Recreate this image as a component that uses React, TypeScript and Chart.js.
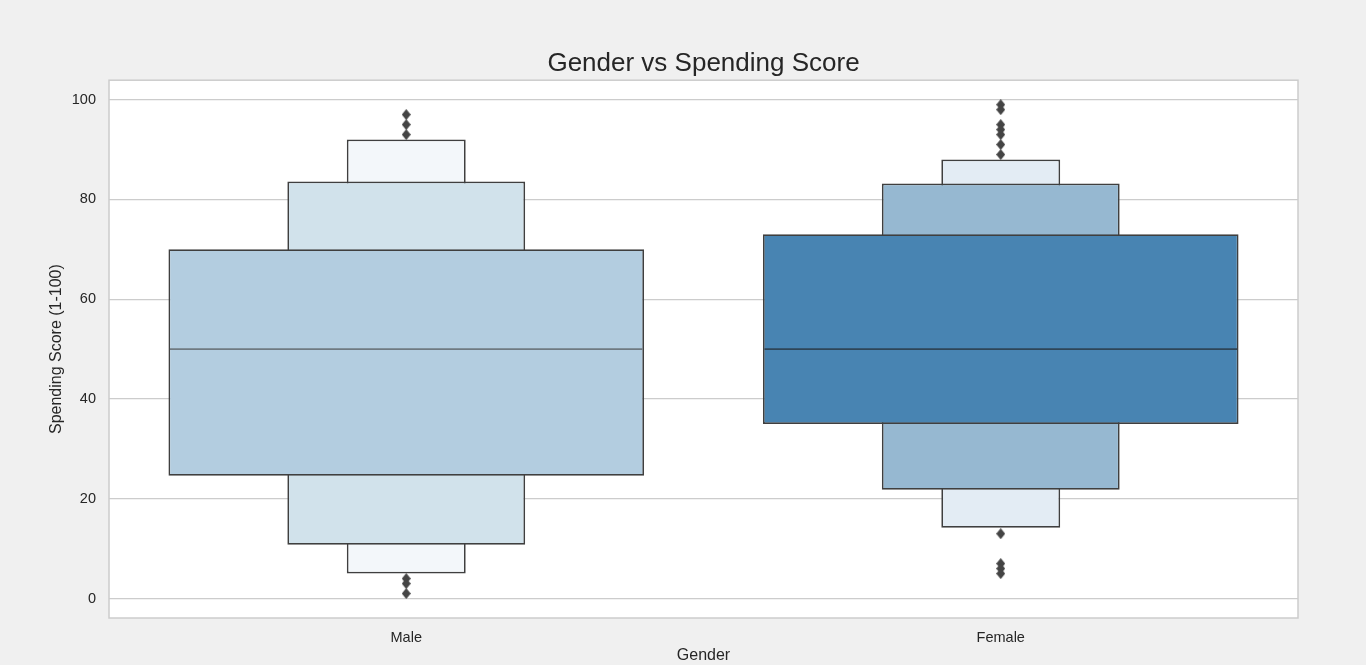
import React, { useEffect, useRef } from "react";
import { Chart, registerables } from "chart.js";

Chart.register(...registerables);

const categories = ["Male", "Female"];
const yTicks = [0, 20, 40, 60, 80, 100];

// boxen levels [low, high] per category (level 1 = innermost / widest)
const level1 = [[24.6, 70], [35, 73]];
const level2 = [[10.8, 83.6], [21.8, 83.2]];
const level3 = [[5, 92], [14.2, 88]];
const medians = [50, 50];

const maleOutliers = [97, 95, 93, 4, 3, 1];
const femaleOutliers = [99, 98, 95, 94, 93, 91, 89, 13, 7, 6, 5];

const level1Colors = ["#b3cde0", "#4884b2"];
const level2Colors = ["#d1e2eb", "#96b8d1"];
const level3Colors = ["#f3f7fa", "#e3ecf4"];
const medianColors = ["#6f7a82", "#2e4557"];

function makeDiamond(): HTMLCanvasElement {
  const c = document.createElement("canvas");
  c.width = 9;
  c.height = 11;
  const g = c.getContext("2d")!;
  g.fillStyle = "#444444";
  g.beginPath();
  g.moveTo(4.5, 0);
  g.lineTo(9, 5.5);
  g.lineTo(4.5, 11);
  g.lineTo(0, 5.5);
  g.closePath();
  g.fill();
  return c;
}

export default function App() {
  const ref = useRef<HTMLCanvasElement>(null);

  useEffect(() => {
    document.body.style.margin = "0";
    const canvas = ref.current!;
    const diamond = makeDiamond();

    const bgPlugin = {
      id: "plotBg",
      beforeDraw(chart: any) {
        const { ctx, chartArea: a } = chart;
        ctx.save();
        ctx.fillStyle = "#f0f0f0";
        ctx.fillRect(0, 0, chart.width, chart.height);
        ctx.fillStyle = "#ffffff";
        ctx.fillRect(a.left, a.top, a.right - a.left, a.bottom - a.top);
        ctx.restore();
      },
      afterDatasetsDraw(chart: any) {
        const { ctx, chartArea: a, scales } = chart;
        const xs = scales.x;
        const ys = scales.y;
        ctx.save();
        medians.forEach((m, i) => {
          const cx = xs.getPixelForValue(i);
          const half = (xs.getPixelForValue(1) - xs.getPixelForValue(0)) * 0.4;
          const py = ys.getPixelForValue(m);
          ctx.strokeStyle = medianColors[i];
          ctx.lineWidth = 1.75;
          ctx.beginPath();
          ctx.moveTo(cx - half + 1.5, py);
          ctx.lineTo(cx + half - 1.5, py);
          ctx.stroke();
        });
        ctx.strokeStyle = "#cccccc";
        ctx.lineWidth = 1.5;
        ctx.strokeRect(a.left, a.top, a.right - a.left, a.bottom - a.top);
        ctx.restore();
      },
    };

    const barDs = (data: number[][], colors: string[], pct: number) => ({
      type: "bar" as const,
      data,
      backgroundColor: colors,
      borderColor: "#3f3f3f",
      borderWidth: 1.75,
      borderSkipped: false,
      grouped: false,
      categoryPercentage: 1,
      barPercentage: pct,
    });

    const chart = new Chart(canvas, {
      type: "bar",
      data: {
        labels: categories,
        datasets: [
          {
            type: "line" as const,
            data: [
              ...maleOutliers.map((v) => ({ x: "Male", y: v })),
              ...femaleOutliers.map((v) => ({ x: "Female", y: v })),
            ] as any,
            showLine: false,
            pointStyle: diamond as any,
            pointRadius: 5,
            borderWidth: 0,
          },
          barDs(level1, level1Colors, 0.8),
          barDs(level2, level2Colors, 0.4),
          barDs(level3, level3Colors, 0.2),
        ] as any,
      },
      options: {
        animation: false,
        responsive: false,
        maintainAspectRatio: false,
        layout: { padding: { left: 41, right: 0, top: 0, bottom: 0 } },
        plugins: {
          legend: { display: false },
          tooltip: { enabled: false },
          title: {
            display: true,
            text: "Gender vs Spending Score",
            color: "#262626",
            font: { family: "Liberation Sans, Arial, sans-serif", size: 26, weight: "normal" },
            padding: { top: 48, bottom: 1 },
          },
        },
        scales: {
          x: {
            type: "category",
            offset: true,
            grid: { display: false, drawTicks: false },
            border: { display: false },
            ticks: {
              color: "#262626",
              padding: 11,
              font: { family: "Liberation Sans, Arial, sans-serif", size: 14.5 },
            },
            title: {
              display: true,
              text: "Gender",
              color: "#262626",
              font: { family: "Liberation Sans, Arial, sans-serif", size: 16 },
              padding: { top: 0, bottom: 0 },
            },
            afterFit(scale: any) {
              scale.height = 47;
            },
          },
          y: {
            type: "linear",
            min: -3.9,
            max: 103.9,
            grid: { color: "#cccccc", lineWidth: 1.2, drawTicks: false },
            border: { display: false },
            afterBuildTicks(scale: any) {
              scale.ticks = yTicks.map((v) => ({ value: v }));
            },
            ticks: {
              color: "#262626",
              padding: 13,
              font: { family: "Liberation Sans, Arial, sans-serif", size: 14.5 },
            },
            title: {
              display: true,
              text: "Spending Score (1-100)",
              color: "#262626",
              font: { family: "Liberation Sans, Arial, sans-serif", size: 16 },
              padding: { top: 6, bottom: 0 },
            },
            afterFit(scale: any) {
              scale.width = 68;
            },
          },
          yRight: {
            type: "linear",
            position: "right",
            min: -3.9,
            max: 103.9,
            grid: { display: false, drawTicks: false },
            border: { display: false },
            ticks: { display: false },
            afterFit(scale: any) {
              scale.width = 68;
            },
          },
        },
      } as any,
      plugins: [bgPlugin],
    });

    return () => chart.destroy();
  }, []);

  return (
    <div style={{ position: "fixed", left: 0, top: 0, width: 1366, height: 665, background: "#f0f0f0" }}>
      <canvas ref={ref} width={1366} height={665} style={{ width: 1366, height: 665 }} />
    </div>
  );
}
